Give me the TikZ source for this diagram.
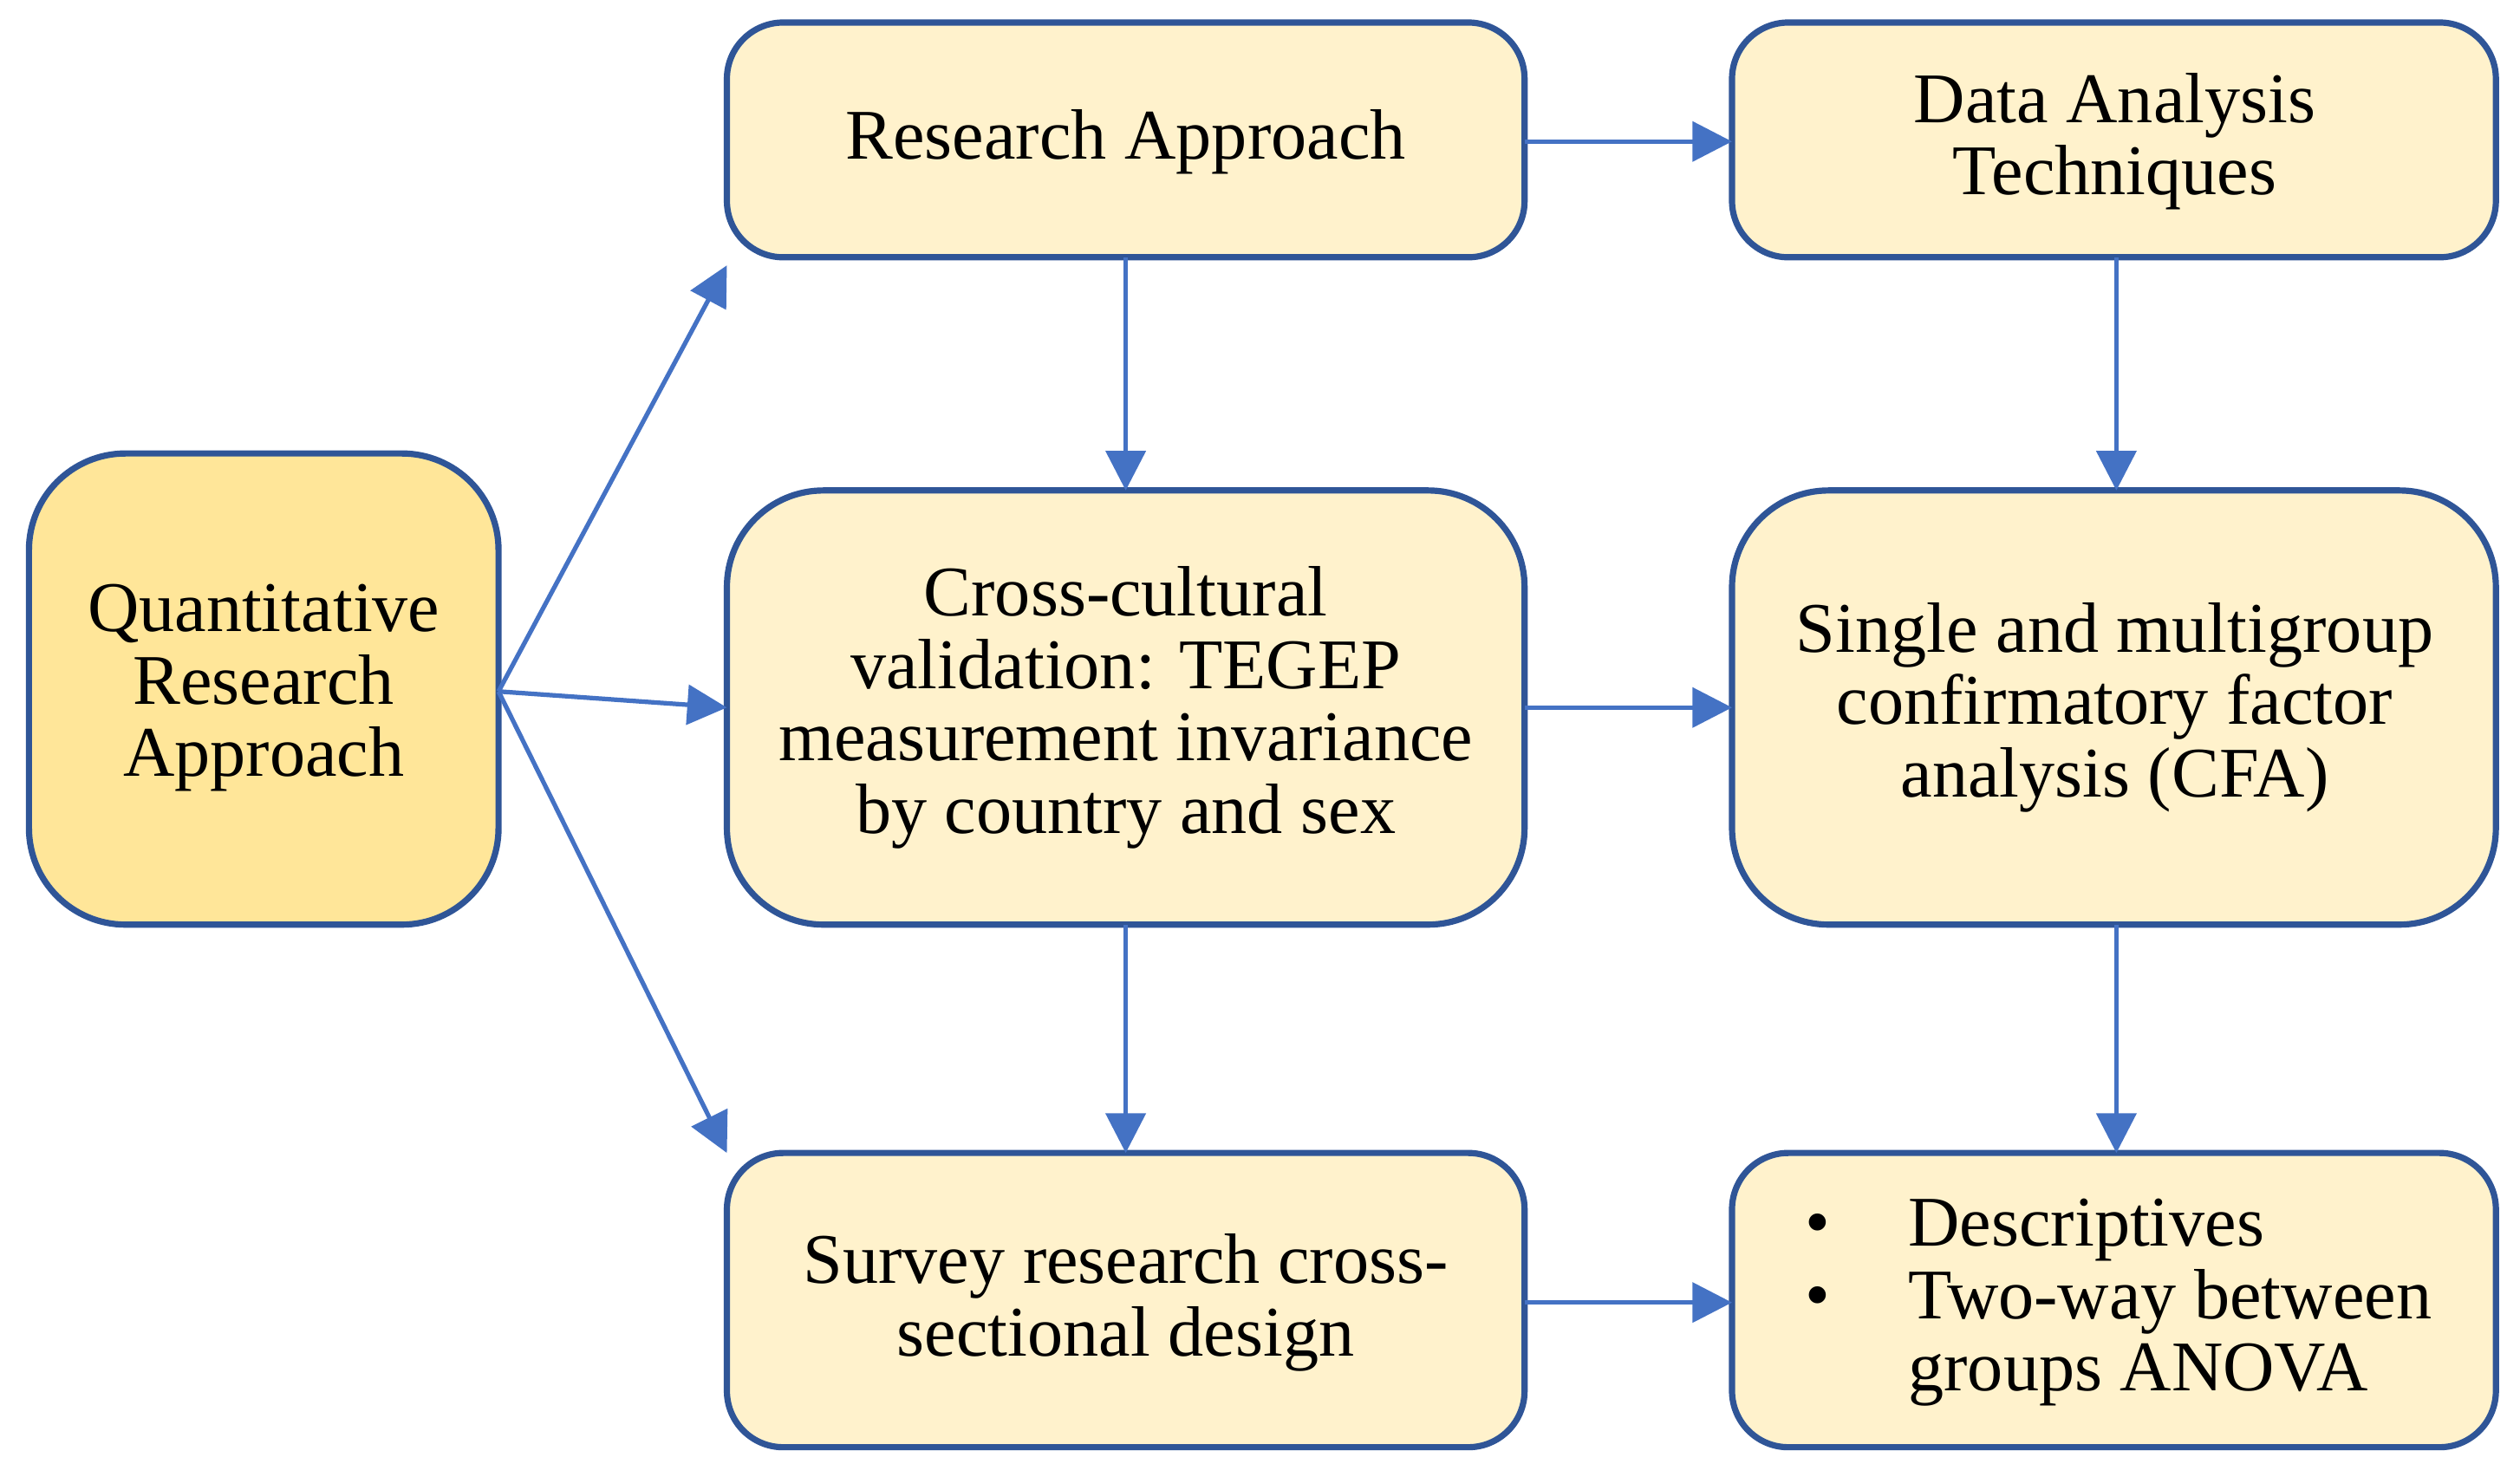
\documentclass[tikz,border=0pt]{standalone}
\usepackage{fontspec}
\setmainfont{Liberation Serif}
\usetikzlibrary{arrows.meta}
\definecolor{bfill}{HTML}{FFF2CC}
\definecolor{qfill}{HTML}{FFE699}
\definecolor{bdraw}{HTML}{2F5597}
\definecolor{arr}{HTML}{4472C4}
\begin{document}
\begin{tikzpicture}[x=0.01cm,y=-0.01cm,
 box/.style={draw=bdraw,line width=1.1pt,fill=bfill,rounded corners=0.35cm},
 txt/.style={align=center,font=\fontsize{12.6}{12.8}\selectfont},
 ar/.style={draw=arr,line width=0.8pt,-{Triangle[length=7pt,width=7pt]}}]
\useasboundingbox (0,0) rectangle (1567,918);
\draw[box,fill=qfill,rounded corners=0.6cm] (18,282) rectangle (310,575);
\node[txt] (q) at (164,428) {Quantitative\\Research\\Approach};
\draw[box] (452,14) rectangle (948,160);
\node[txt] (ra) at (700,88) {Research Approach};
\draw[box] (1077,14) rectangle (1552,160);
\node[txt] (da) at (1315,88) {Data Analysis\\Techniques};
\draw[box,rounded corners=0.6cm] (452,305) rectangle (948,575);
\node[txt] (cc) at (700,440) {Cross-cultural\\validation: TEGEP\\measurement invariance\\by country and sex};
\draw[box,rounded corners=0.6cm] (1077,305) rectangle (1552,575);
\node[txt] (sm) at (1315,440) {Single and multigroup\\confirmatory factor\\analysis (CFA)};
\draw[box] (452,717) rectangle (948,900);
\node[txt] (sv) at (700,810) {Survey research cross-\\sectional design};
\draw[box] (1077,717) rectangle (1552,900);
\node[txt,align=left,anchor=west] (ds) at (1110,810) {•\hspace{1.1em}Descriptives\\•\hspace{1.1em}Two-way between\\\phantom{•}\hspace{1.1em}groups ANOVA};
\coordinate (qe) at (310,430);
\draw[ar] (qe) -- (452,165);
\draw[ar] (qe) -- (452,440);
\draw[ar] (qe) -- (452,717);
\draw[ar] (948,88) -- (1077,88);
\draw[ar] (948,440) -- (1077,440);
\draw[ar] (948,810) -- (1077,810);
\draw[ar] (700,160) -- (700,305);
\draw[ar] (700,575) -- (700,717);
\draw[ar] (1316,160) -- (1316,305);
\draw[ar] (1316,575) -- (1316,717);
\end{tikzpicture}
\end{document}
